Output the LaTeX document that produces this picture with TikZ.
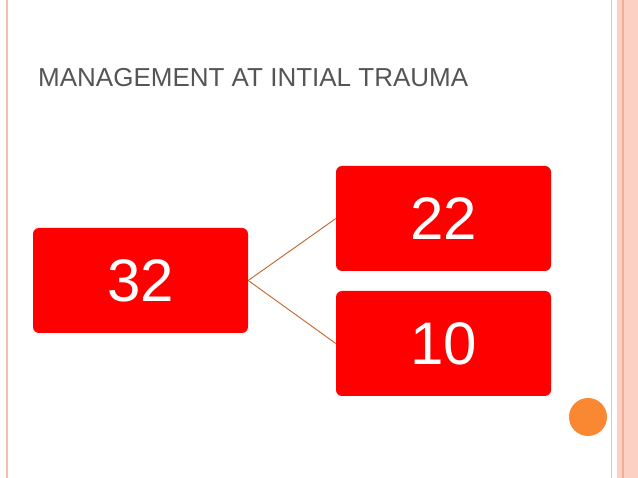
\documentclass[tikz,border=0pt]{standalone}
\usepackage{fontspec}
\setmainfont{Liberation Sans}
\definecolor{boxred}{RGB}{255,0,0}
\definecolor{connc}{RGB}{196,100,40}
\definecolor{lineA}{RGB}{245,190,175}
\definecolor{bandc}{RGB}{252,208,195}
\definecolor{lineB}{RGB}{240,175,155}
\definecolor{titlec}{RGB}{85,85,85}
\definecolor{dotc}{RGB}{250,135,50}
\begin{document}
\begin{tikzpicture}[x=1pt,y=-1pt,
 box/.style={fill=boxred,rounded corners=6pt,minimum width=215pt,minimum height=105pt,inner sep=0,font=\fontsize{60}{66}\selectfont,text=white},
 conn/.style={draw=connc,line width=0.9pt}]
\useasboundingbox (0,0) rectangle (638,478);
\fill[white] (0,0) rectangle (638,478);
\draw[lineA,line width=1.5pt] (7,0) -- (7,478);
\draw[lineA,line width=1pt] (611,0) -- (611,478);
\fill[bandc] (617,0) rectangle (638,478);
\draw[lineB,line width=1.5pt] (623,0) -- (623,478);
\node[anchor=base west,inner sep=0,text=titlec,font=\fontsize{26}{30}\selectfont] (title) at (38,87) {MANAGEMENT AT INTIAL TRAUMA};
\node[box] (a) at (140.5,280.5) {32};
\node[box] (b) at (443.5,218.5) {22};
\node[box] (c) at (443.5,343.5) {10};
\draw[conn] (a.east) -- (b.west);
\draw[conn] (a.east) -- (c.west);
\fill[dotc] (588,417) circle (19);
\end{tikzpicture}
\end{document}
